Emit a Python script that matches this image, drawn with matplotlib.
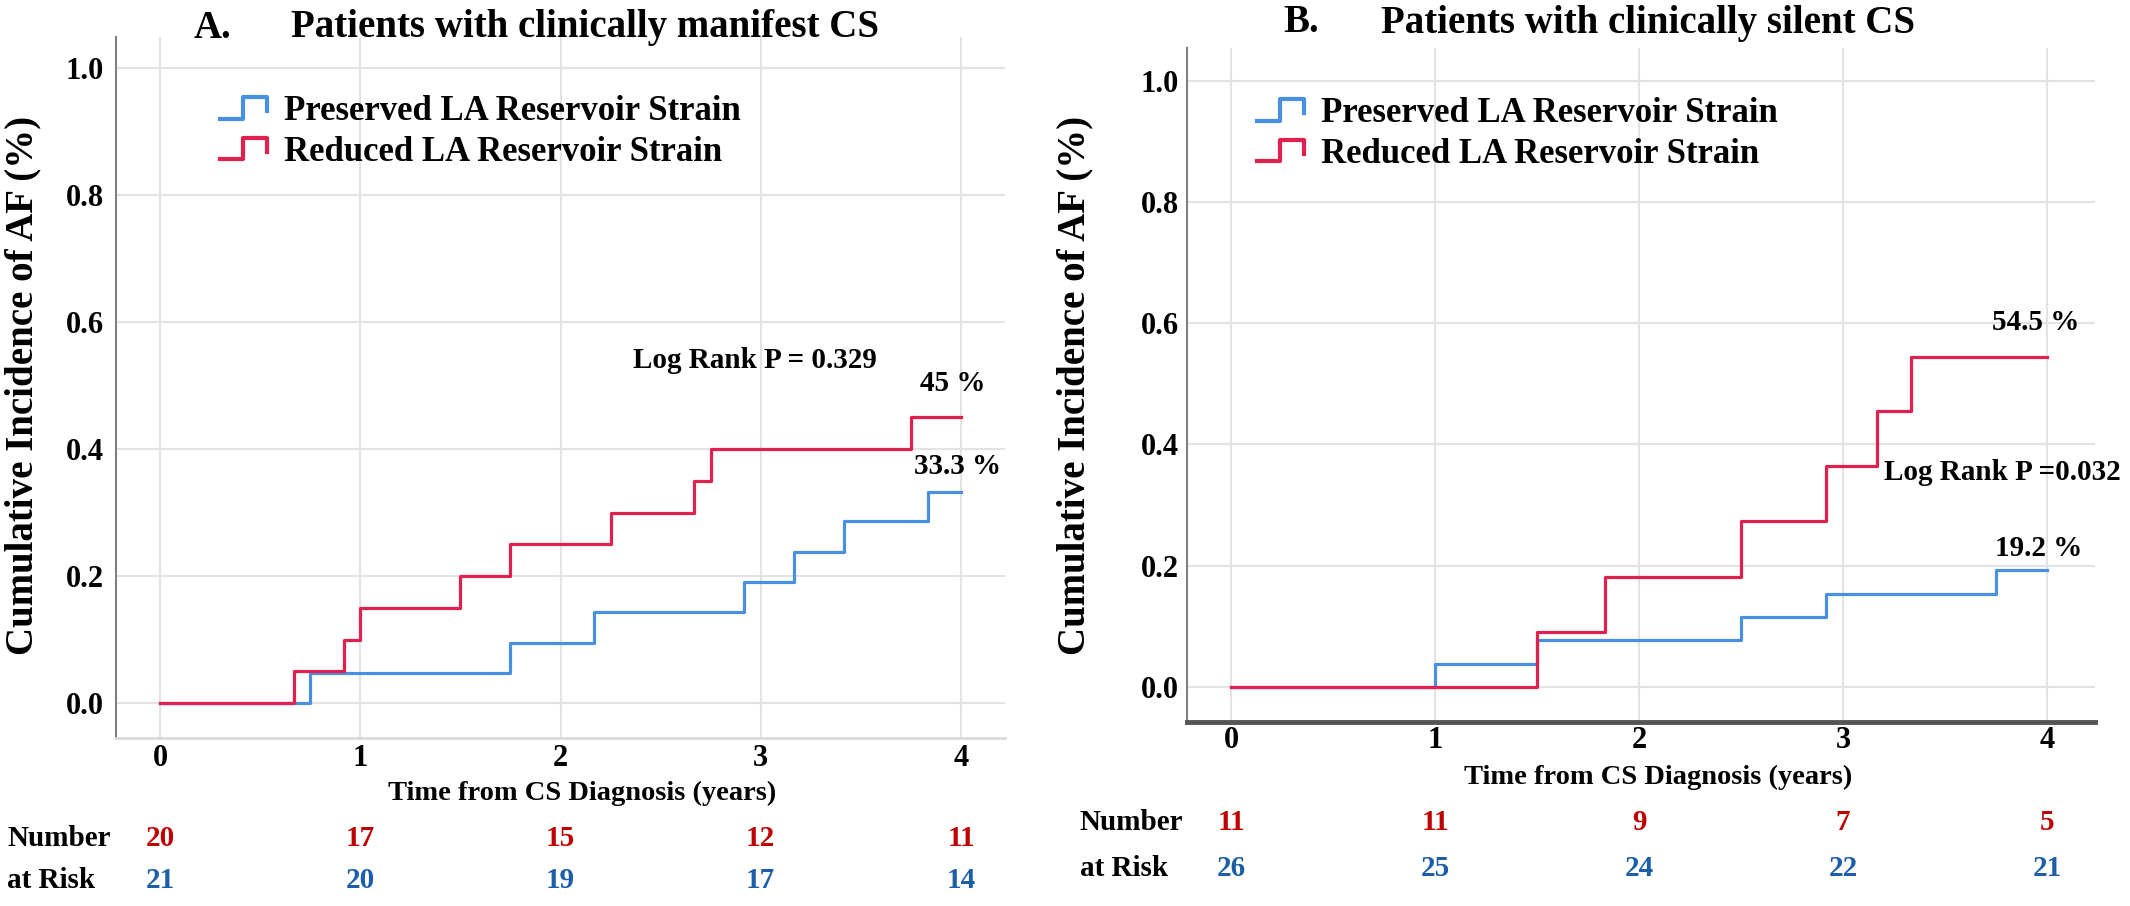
import matplotlib
matplotlib.use("Agg")
import matplotlib.pyplot as plt
import matplotlib.transforms as mtransforms
from matplotlib.legend_handler import HandlerBase
from matplotlib.lines import Line2D

plt.rcParams["font.family"] = ["Liberation Serif", "DejaVu Serif"]
plt.rcParams["font.weight"] = "bold"

# panel A: clinically manifest CS
a_red_t = [0, 0.667, 0.917, 1.0, 1.5, 1.75, 2.25, 2.667, 2.75, 3.75, 4.0]
a_red_y = [0, 0.05, 0.10, 0.15, 0.20, 0.25, 0.30, 0.35, 0.40, 0.45, 0.45]
a_blue_t = [0, 0.75, 1.75, 2.167, 2.917, 3.167, 3.417, 3.833, 4.0]
a_blue_y = [0, 0.048, 0.095, 0.143, 0.190, 0.238, 0.286, 0.333, 0.333]
a_risk_red = [20, 17, 15, 12, 11]
a_risk_blue = [21, 20, 19, 17, 14]

# panel B: clinically silent CS
b_red_t = [0, 1.5, 1.833, 2.5, 2.917, 3.167, 3.333, 4.0]
b_red_y = [0, 0.091, 0.182, 0.273, 0.364, 0.455, 0.545, 0.545]
b_blue_t = [0, 1.0, 1.5, 2.5, 2.917, 3.75, 4.0]
b_blue_y = [0, 0.038, 0.077, 0.115, 0.154, 0.192, 0.192]
b_risk_red = [11, 11, 9, 7, 5]
b_risk_blue = [26, 25, 24, 22, 21]

risk_times = [0, 1, 2, 3, 4]
labels = ["Preserved LA Reservoir Strain", "Reduced LA Reservoir Strain"]

BLUE = "#4A90E2"
RED = "#E0204F"
RISK_RED = "#C00000"
RISK_BLUE = "#1C5EA8"

W, H = 2130, 906
fig = plt.figure(figsize=(W / 100, H / 100), dpi=100)


def fx(p):
    return p / W


def fy(p):
    return 1 - p / H


class StepHandler(HandlerBase):
    def create_artists(self, legend, orig_handle, xdescent, ydescent,
                       width, height, fontsize, trans):
        x0, x1 = -xdescent, -xdescent + width
        xm = (x0 + x1) / 2
        lo, hi = -ydescent + 0.05 * height, -ydescent + 0.95 * height
        ln = Line2D([x0, xm, xm, x1, x1], [lo, lo, hi, hi, lo + 0.35 * (hi - lo)],
                    color=orig_handle.get_color(), lw=3, transform=trans)
        return [ln]


def panel(rect, xlim, ylim, blue, red, risk, notes, cfg):
    ax = fig.add_axes(rect)
    ax.set_xlim(*xlim)
    ax.set_ylim(*ylim)
    ax.set_xticks([0, 1, 2, 3, 4])
    ax.set_yticks([0, 0.2, 0.4, 0.6, 0.8, 1.0])
    ax.set_yticklabels(["0.0", "0.2", "0.4", "0.6", "0.8", "1.0"])
    ax.grid(True, color="#E3E3E3", lw=1.5)
    ax.set_axisbelow(True)
    ax.tick_params(length=0, labelsize=22)
    ax.tick_params(axis="y", pad=cfg["ypad"])
    ax.tick_params(axis="x", pad=cfg["xpad"])
    for s in ["top", "right"]:
        ax.spines[s].set_visible(False)
    ax.spines["left"].set_color("#808080")
    ax.spines["left"].set_linewidth(1.5)
    ax.spines["bottom"].set_color(cfg["bcolor"])
    ax.spines["bottom"].set_linewidth(cfg["bwidth"])

    hb, = ax.step(blue[0], blue[1], where="post", color=BLUE, lw=2.3)
    hr, = ax.step(red[0], red[1], where="post", color=RED, lw=2.3)

    ax.legend([hb, hr], labels, handler_map={Line2D: StepHandler()},
              loc="upper left", bbox_to_anchor=(fx(cfg["leg"][0]), fy(cfg["leg"][1])),
              bbox_transform=fig.transFigure, frameon=False, fontsize=25,
              handlelength=1.35, handletextpad=0.5, labelspacing=0.22,
              borderpad=0, borderaxespad=0)

    for txt, x, y in notes:
        ax.text(x, y, txt, ha="center", va="center", fontsize=21)

    fig.text(fx(cfg["ylab"]), fy(385), "Cumulative Incidence of AF (%)",
             rotation=90, ha="center", va="center", fontsize=28)
    fig.text(fx(cfg["xlab"][0]), fy(cfg["xlab"][1]), "Time from CS Diagnosis (years)",
             ha="center", va="center", fontsize=20.5)
    fig.text(fx(cfg["title"][0]), fy(cfg["title"][2]), cfg["title"][3],
             ha="left", va="center", fontsize=28)
    fig.text(fx(cfg["title"][1]), fy(cfg["title"][2]), cfg["title"][4],
             ha="left", va="center", fontsize=28)

    tr = mtransforms.blended_transform_factory(ax.transData, fig.transFigure)
    r1, r2 = cfg["rows"]
    fig.text(fx(cfg["num_x"]), fy(r1), "Number", ha="left", va="center", fontsize=21)
    fig.text(fx(cfg["num_x"]), fy(r2), "at Risk", ha="left", va="center", fontsize=21)
    for t, nr, nb in zip(risk_times, risk[0], risk[1]):
        ax.text(t, fy(r1), str(nr), transform=tr, ha="center", va="center",
                fontsize=21, color=RISK_RED, clip_on=False)
        ax.text(t, fy(r2), str(nb), transform=tr, ha="center", va="center",
                fontsize=21, color=RISK_BLUE, clip_on=False)
    return ax


panel([fx(116), fy(738), fx(1005) - fx(116), fy(37) - fy(738)],
      (-0.22, 4.22), (-0.055, 1.049),
      (a_blue_t, a_blue_y), (a_red_t, a_red_y), (a_risk_red, a_risk_blue),
      [("45 %", 3.96, 0.504), ("33.3 %", 3.985, 0.372), ("Log Rank P = 0.329", 2.97, 0.54)],
      dict(ypad=8.5, xpad=4, bcolor="#D9D9D9", bwidth=2, leg=(220, 95), ylab=23,
           xlab=(582, 793), title=(194, 291, 28, "A.", "Patients with clinically manifest CS"),
           rows=(839, 880), num_x=7))

panel([fx(1187), fy(722), fx(2095) - fx(1187), fy(48) - fy(722)],
      (-0.216, 4.235), (-0.058, 1.054),
      (b_blue_t, b_blue_y), (b_red_t, b_red_y), (b_risk_red, b_risk_blue),
      [("54.5 %", 3.946, 0.601), ("Log Rank P =0.032", 3.78, 0.353), ("19.2 %", 3.96, 0.229)],
      dict(ypad=6, xpad=3, bcolor="#555555", bwidth=3.5, leg=(1257, 97), ylab=1075,
           xlab=(1658, 777), title=(1283, 1381, 23, "B.", "Patients with clinically silent CS"),
           rows=(822, 868), num_x=1080))

fig.savefig("out.png", dpi=100)
